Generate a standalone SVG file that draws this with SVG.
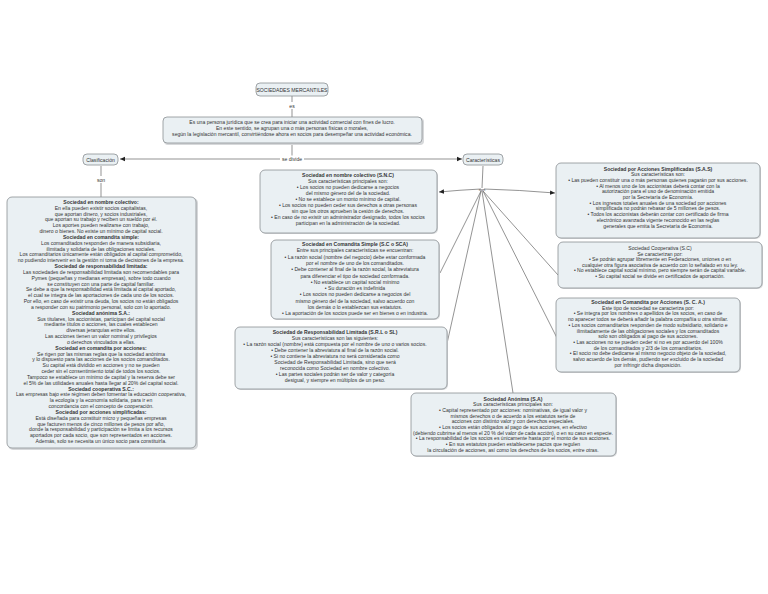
<svg xmlns="http://www.w3.org/2000/svg" width="768" height="594" viewBox="0 0 768 594">
<style>
text{font-family:"Liberation Sans",Arial,sans-serif;font-size:5.1px;fill:#333;text-anchor:middle}
.b{font-weight:bold}
.box{fill:#eaf0f3;stroke:#8a8f93;stroke-width:0.8}
.sh{fill:#d6d8da}
.c{stroke:#666;stroke-width:0.7;fill:none}
.lbl{fill:#fff}
</style>
<defs>
<marker id="a" markerWidth="6" markerHeight="6" refX="5" refY="3" orient="auto" markerUnits="userSpaceOnUse"><path d="M0,0.8 L5,3 L0,5.2z" fill="#222"/></marker>
</defs>
<rect width="768" height="594" fill="#fff"/>
<g id="connectors">
<line class="c" x1="292" y1="96" x2="292" y2="117"/>
<rect class="lbl" x="287" y="102" width="10" height="7"/><text x="292" y="107.5">es</text>
<line class="c" x1="292" y1="143" x2="292" y2="159"/>
<line class="c" x1="292" y1="159" x2="120" y2="159" marker-end="url(#a)"/>
<line class="c" x1="292" y1="159" x2="462" y2="159" marker-end="url(#a)"/>
<rect class="lbl" x="280" y="155.5" width="24" height="7"/><text x="292" y="161">se divide</text>
<line class="c" x1="101" y1="166" x2="101" y2="197"/>
<rect class="lbl" x="95" y="176" width="12" height="7"/><text x="101" y="181.5">son</text>
<line class="c" x1="483" y1="166" x2="482" y2="188"/>
<path class="c" d="M481,189 Q460,190 439,192" marker-end="url(#a)"/>
<path class="c" d="M484,189 Q520,190 555,193" marker-end="url(#a)"/>
<line class="c" x1="481" y1="191" x2="440" y2="273"/>
<line class="c" x1="481" y1="191" x2="446" y2="348"/>
<line class="c" x1="482" y1="191" x2="513" y2="393"/>
<line class="c" x1="483" y1="191" x2="558" y2="275"/>
<line class="c" x1="483" y1="191" x2="557" y2="338"/>
<text x="482" y="191" style="font-size:4px">son</text>
</g>
<g id="title"><rect class="box" x="256" y="83" width="72" height="13" rx="4"/><text x="292" y="91.5">SOCIEDADES MERCANTILES</text></g>
<g id="definicion"><rect class="sh" x="164" y="118" width="260" height="27" rx="4"/><rect class="box" x="163" y="117" width="259" height="26" rx="4"/>
<text x="292" y="124">Es una persona jurídica que se crea para iniciar una actividad comercial con fines de lucro.</text>
<text x="292" y="130">En este sentido, se agrupan una o más personas físicas o morales,</text>
<text x="292" y="136">según la legislación mercantil, convirtiéndose ahora en socios para desempeñar una actividad económica.</text></g>
<g id="clasificacion"><rect class="box" x="83" y="154" width="35" height="11" rx="4"/><text x="100.5" y="161.5">Clasificación</text></g>
<g id="caracteristicas"><rect class="box" x="463" y="154" width="40" height="11" rx="4"/><text x="483" y="161.5">Características</text></g>
<g id="clasif-detalle"><rect class="sh" x="8" y="198" width="190" height="252" rx="5"/><rect class="box" x="7" y="197" width="189" height="251" rx="5"/>
<text y="204"><tspan x="101" class="b">Sociedad en nombre colectivo:</tspan><tspan x="101" dy="5.83">En ella pueden existir socios capitalistas,</tspan><tspan x="101" dy="5.83">que aportan dinero, y socios industriales,</tspan><tspan x="101" dy="5.83">que aportan su trabajo y reciben un sueldo por él.</tspan><tspan x="101" dy="5.83">Los aportes pueden realizarse con trabajo,</tspan><tspan x="101" dy="5.83">dinero o bienes.  No existe un mínimo de capital social.</tspan><tspan x="101" dy="5.83" class="b">Sociedad en comandita simple:</tspan><tspan x="101" dy="5.83">Los comanditados responden de manera subsidiaria,</tspan><tspan x="101" dy="5.83">ilimitada y solidaria de las obligaciones sociales.</tspan><tspan x="101" dy="5.83">Los comanditarios únicamente están obligados al capital comprometido,</tspan><tspan x="101" dy="5.83">no pudiendo intervenir en la gestión ni toma de decisiones de la empresa.</tspan><tspan x="101" dy="5.83" class="b">Sociedad de responsabilidad limitada:</tspan><tspan x="101" dy="5.83">Las sociedades de responsabilidad limitada son recomendables para</tspan><tspan x="101" dy="5.83">Pymes (pequeñas y medianas empresas), sobre todo cuando</tspan><tspan x="101" dy="5.83">se constituyen con una parte de capital familiar.</tspan><tspan x="101" dy="5.83">Se debe a que la responsabilidad está limitada al capital aportado,</tspan><tspan x="101" dy="5.83">el cual se integra de las aportaciones de cada uno de los socios.</tspan><tspan x="101" dy="5.83">Por ello, en caso de existir una deuda, los socios no están obligados</tspan><tspan x="101" dy="5.83">a responder con su patrimonio personal, solo con lo aportado.</tspan><tspan x="101" dy="5.83" class="b">Sociedad anónima S.A.:</tspan><tspan x="101" dy="5.83">Sus titulares, los accionistas, participan del capital social</tspan><tspan x="101" dy="5.83">mediante títulos o acciones, las cuales establecen</tspan><tspan x="101" dy="5.83">diversas jerarquías entre ellos.</tspan><tspan x="101" dy="5.83">Las acciones tienen un valor nominal y privilegios</tspan><tspan x="101" dy="5.83">o derechos vinculados a ellas.</tspan><tspan x="101" dy="5.83" class="b">Sociedad en comandita por acciones:</tspan><tspan x="101" dy="5.83">Se rigen por las mismas reglas que la sociedad anónima</tspan><tspan x="101" dy="5.83">y lo dispuesto para las acciones de los socios comanditados.</tspan><tspan x="101" dy="5.83">Su capital está dividido en acciones y no se pueden</tspan><tspan x="101" dy="5.83">ceder sin el consentimiento total de todos los socios.</tspan><tspan x="101" dy="5.83">Tampoco se establece un mínimo de capital y la reserva debe ser</tspan><tspan x="101" dy="5.83">el 5% de las utilidades anuales hasta llegar al 20% del capital social.</tspan><tspan x="101" dy="5.83" class="b">Sociedad cooperativa S.C.:</tspan><tspan x="101" dy="5.83">Las empresas bajo este régimen deben fomentar la educación cooperativa,</tspan><tspan x="101" dy="5.83">la ecología y la economía solidaria, para ir en</tspan><tspan x="101" dy="5.83">concordancia con el concepto de cooperación.</tspan><tspan x="101" dy="5.83" class="b">Sociedad por acciones simplificadas:</tspan><tspan x="101" dy="5.83">Está diseñada para constituir micro y pequeñas empresas</tspan><tspan x="101" dy="5.83">que facturen menos de cinco millones de pesos por año,</tspan><tspan x="101" dy="5.83">donde la responsabilidad y participación se limita a los recursos</tspan><tspan x="101" dy="5.83">aportados por cada socio, que son representados en acciones.</tspan><tspan x="101" dy="5.83">Además, solo se necesita un único socio para constituirla.</tspan></text></g>
<g id="snc"><rect class="sh" x="261" y="171" width="177" height="63" rx="5"/><rect class="box" x="260" y="170" width="177" height="63" rx="5"/>
<text y="177"><tspan x="348" class="b">Sociedad en nombre colectivo (S.N.C)</tspan><tspan x="348" dy="6">Sus características principales son:</tspan><tspan x="348" dy="6">•   Los socios no pueden dedicarse a negocios</tspan><tspan x="348" dy="6">del mismo género del de la sociedad.</tspan><tspan x="348" dy="6">•   No se establece un monto mínimo de capital.</tspan><tspan x="348" dy="6">•   Los socios no pueden ceder sus derechos a otras personas</tspan><tspan x="348" dy="6">sin que los otros aprueben la cesión de derechos.</tspan><tspan x="348" dy="6">•   En caso de no existir un administrador designado, todos los socios</tspan><tspan x="348" dy="6">participan en la administración de la sociedad.</tspan></text></g>
<g id="scs"><rect class="sh" x="272" y="241" width="168" height="79" rx="5"/><rect class="box" x="271" y="240" width="168" height="79" rx="5"/>
<text y="246"><tspan x="355" class="b">Sociedad en Comandita Simple (S.C o SCA)</tspan><tspan x="355" dy="6.3">Entre sus principales características se encuentran:</tspan><tspan x="355" dy="6.3">•   La razón social (nombre del negocio) debe estar conformada</tspan><tspan x="355" dy="6.3">por el nombre de uno de los comanditados.</tspan><tspan x="355" dy="6.3">•   Debe contener al final de la razón social, la abreviatura</tspan><tspan x="355" dy="6.3">para diferenciar el tipo de sociedad conformada.</tspan><tspan x="355" dy="6.3">•   No establece un capital social mínimo</tspan><tspan x="355" dy="6.3">•   Su duración es indefinida</tspan><tspan x="355" dy="6.3">•   Los socios no pueden dedicarse a negocios del</tspan><tspan x="355" dy="6.3">mismo género del de la sociedad, salvo acuerdo con</tspan><tspan x="355" dy="6.3">los demás o lo establezcan sus estatutos.</tspan><tspan x="355" dy="6.3">•   La aportación de los socios puede ser en bienes o en industria.</tspan></text></g>
<g id="srl"><rect class="sh" x="236" y="328" width="212" height="62" rx="5"/><rect class="box" x="235" y="327" width="212" height="62" rx="5"/>
<text y="334"><tspan x="335" class="b">Sociedad de Responsabilidad Limitada (S.R.L o SL)</tspan><tspan x="335" dy="6">Sus características son las siguientes:</tspan><tspan x="335" dy="6">•   La razón social (nombre) está compuesta por el nombre de uno o varios socios.</tspan><tspan x="335" dy="6">•   Debe contener la abreviatura al final de la razón social.</tspan><tspan x="335" dy="6">•   Si no contiene la abreviatura no será considerada como</tspan><tspan x="335" dy="6">Sociedad de Responsabilidad Limitada, sino que será</tspan><tspan x="335" dy="6">reconocida como Sociedad en nombre colectivo.</tspan><tspan x="335" dy="6">•   Las partes sociales podrán ser de valor y categoría</tspan><tspan x="335" dy="6">desigual, y siempre en múltiplos de un peso.</tspan></text></g>
<g id="sa"><rect class="sh" x="412" y="394" width="205" height="63" rx="5"/><rect class="box" x="411" y="393" width="205" height="63" rx="5"/>
<text y="400.5"><tspan x="513" class="b">Sociedad Anónima (S.A)</tspan><tspan x="513" dy="5.7">Sus características principales son:</tspan><tspan x="513" dy="5.7">•   Capital representado por acciones: nominativas, de igual valor y</tspan><tspan x="513" dy="5.7">mismos derechos o de acuerdo a los estatutos serie de</tspan><tspan x="513" dy="5.7">acciones con distinto valor  y con derechos especiales.</tspan><tspan x="513" dy="5.7">•   Los socios están obligados al pago de sus acciones, en efectivo</tspan><tspan x="513" dy="5.7">(debiendo cubrirse al menos el 20 % del valor de cada acción), o en su caso en especie.</tspan><tspan x="513" dy="5.7">•   La responsabilidad de los socios es únicamente hasta por el monto de sus acciones.</tspan><tspan x="513" dy="5.7">•   En sus estatutos pueden establecerse pactos que regulen</tspan><tspan x="513" dy="5.7">la circulación de acciones, así como los derechos de los socios, entre otras.</tspan></text></g>
<g id="sas"><rect class="sh" x="557" y="164" width="204" height="75" rx="5"/><rect class="box" x="556" y="163" width="204" height="75" rx="5"/>
<text y="170.5"><tspan x="658" class="b">Sociedad por Acciones Simplificadas (S.A.S)</tspan><tspan x="658" dy="5.7">Sus características son:</tspan><tspan x="658" dy="5.7">•   Las pueden constituir una o más personas quienes pagarán por sus acciones.</tspan><tspan x="658" dy="5.7">•   Al menos uno de los accionistas deberá contar con la</tspan><tspan x="658" dy="5.7">autorización para el uso de denominación emitida</tspan><tspan x="658" dy="5.7">por la Secretaría de Economía.</tspan><tspan x="658" dy="5.7">•   Los ingresos totales anuales de una sociedad por acciones</tspan><tspan x="658" dy="5.7">simplificada no podrán rebasar de 5 millones de pesos.</tspan><tspan x="658" dy="5.7">•   Todos los accionistas deberán contar con certificado de firma</tspan><tspan x="658" dy="5.7">electrónico avanzada vigente reconocido en las reglas</tspan><tspan x="658" dy="5.7">generales que emita la Secretaría de Economía.</tspan></text></g>
<g id="coop"><rect class="sh" x="559" y="243" width="204" height="46" rx="5"/><rect class="box" x="558" y="242" width="204" height="46" rx="5"/>
<text y="250"><tspan x="660">Sociedad Cooperativa (S.C)</tspan><tspan x="660" dy="5.6">Se caracterizan por:</tspan><tspan x="660" dy="5.6">•   Se podrán agrupar libremente en Federaciones, uniones o en</tspan><tspan x="660" dy="5.6">cualquier otra figura asociativa de acuerdo con lo señalado en su ley.</tspan><tspan x="660" dy="5.6">•   No establece capital social mínimo, pero siempre serán de capital variable.</tspan><tspan x="660" dy="5.6">•   Su capital social se divide en certificados de aportación.</tspan></text></g>
<g id="sca"><rect class="sh" x="557" y="299" width="184" height="74" rx="5"/><rect class="box" x="556" y="298" width="184" height="74" rx="5"/>
<text y="304"><tspan x="648" class="b">Sociedad en Comandita por Acciones (S. C. A.)</tspan><tspan x="648" dy="5.7">Este tipo de sociedad se caracteriza por:</tspan><tspan x="648" dy="5.7">•   Se integra por los nombres o apellidos de los socios, en caso de</tspan><tspan x="648" dy="5.7">no aparecer todos se deberá añadir la palabra compañía u otra similar.</tspan><tspan x="648" dy="5.7">•   Los socios comanditarios responden de modo subsidiario, solidario e</tspan><tspan x="648" dy="5.7">ilimitadamente de las obligaciones sociales y los comanditados</tspan><tspan x="648" dy="5.7">solo son obligados al pago de sus acciones.</tspan><tspan x="648" dy="5.7">•   Las acciones no se pueden ceder si no es por acuerdo del 100%</tspan><tspan x="648" dy="5.7">de los comanditados y 2/3 de los comanditarios.</tspan><tspan x="648" dy="5.7">•   El socio no debe dedicarse al mismo negocio objeto de la sociedad,</tspan><tspan x="648" dy="5.7">salvo acuerdo de los demás, pudiendo ser excluido de la sociedad</tspan><tspan x="648" dy="5.7">por infringir dicha disposición.</tspan></text></g>
</svg>
